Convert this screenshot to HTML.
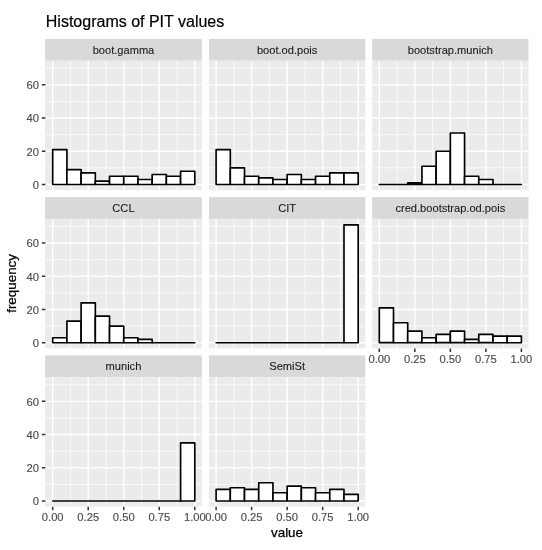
<!DOCTYPE html>
<html lang="en"><head><meta charset="utf-8"><title>Histograms of PIT values</title>
<style>html,body{margin:0;padding:0;background:#fff;width:542px;height:550px;overflow:hidden}svg{display:block}</style></head>
<body>
<svg width="542" height="550" viewBox="0 0 542 550" font-family="'Liberation Sans', Arial, Helvetica, sans-serif">
<rect width="542" height="550" fill="#fff"/>
<text x="45.8" y="27.2" font-size="16.0" fill="#000" stroke="#000" stroke-width="0.2">Histograms of PIT values</text>
<g>
<rect x="45.1" y="38.9" width="156.75" height="21.8" fill="#d9d9d9"/>
<rect x="45.1" y="60.7" width="156.75" height="129.4" fill="#ebebeb"/>
<path d="M45.1 167.9H201.85M45.1 134.68H201.85M45.1 101.47H201.85M45.1 68.26H201.85M70.46 60.7V190.1M105.99 60.7V190.1M141.51 60.7V190.1M177.04 60.7V190.1" stroke="#fff" stroke-width="0.72" fill="none"/>
<path d="M45.1 184.5H201.85M45.1 151.29H201.85M45.1 118.08H201.85M45.1 84.86H201.85M52.7 60.7V190.1M88.22 60.7V190.1M123.75 60.7V190.1M159.27 60.7V190.1M194.8 60.7V190.1" stroke="#fff" stroke-width="1.45" fill="none"/>
<g fill="#fff" stroke="#000" stroke-width="1.65" stroke-linejoin="round">
<rect x="52.7" y="149.63" width="14.21" height="34.87"/>
<rect x="66.91" y="169.56" width="14.21" height="14.95"/>
<rect x="81.12" y="172.88" width="14.21" height="11.62"/>
<rect x="95.33" y="181.18" width="14.21" height="3.32"/>
<rect x="109.54" y="176.2" width="14.21" height="8.3"/>
<rect x="123.75" y="176.2" width="14.21" height="8.3"/>
<rect x="137.96" y="179.52" width="14.21" height="4.98"/>
<rect x="152.17" y="174.54" width="14.21" height="9.96"/>
<rect x="166.38" y="176.2" width="14.21" height="8.3"/>
<rect x="180.59" y="171.22" width="14.21" height="13.29"/>
</g>
<text x="123.47" y="53.7" font-size="11.1" fill="#1a1a1a" stroke="#1a1a1a" stroke-width="0.1" text-anchor="middle">boot.gamma</text>
<text x="39.05" y="188.75" font-size="11.2" fill="#4d4d4d" stroke="#4d4d4d" stroke-width="0.15" text-anchor="end">0</text>
<text x="39.05" y="155.54" font-size="11.2" fill="#4d4d4d" stroke="#4d4d4d" stroke-width="0.15" text-anchor="end">20</text>
<text x="39.05" y="122.33" font-size="11.2" fill="#4d4d4d" stroke="#4d4d4d" stroke-width="0.15" text-anchor="end">40</text>
<text x="39.05" y="89.11" font-size="11.2" fill="#4d4d4d" stroke="#4d4d4d" stroke-width="0.15" text-anchor="end">60</text>
<path d="M41.9 184.5H45.4M41.9 151.29H45.4M41.9 118.08H45.4M41.9 84.86H45.4" stroke="#333" stroke-width="1.5" fill="none"/>
</g>
<g>
<rect x="209" y="38.9" width="156.3" height="21.8" fill="#d9d9d9"/>
<rect x="209" y="60.7" width="156.3" height="129.4" fill="#ebebeb"/>
<path d="M209 167.9H365.3M209 134.68H365.3M209 101.47H365.3M209 68.26H365.3M233.86 60.7V190.1M269.39 60.7V190.1M304.91 60.7V190.1M340.44 60.7V190.1" stroke="#fff" stroke-width="0.72" fill="none"/>
<path d="M209 184.5H365.3M209 151.29H365.3M209 118.08H365.3M209 84.86H365.3M216.1 60.7V190.1M251.62 60.7V190.1M287.15 60.7V190.1M322.67 60.7V190.1M358.2 60.7V190.1" stroke="#fff" stroke-width="1.45" fill="none"/>
<g fill="#fff" stroke="#000" stroke-width="1.65" stroke-linejoin="round">
<rect x="216.1" y="149.63" width="14.21" height="34.87"/>
<rect x="230.31" y="167.9" width="14.21" height="16.61"/>
<rect x="244.52" y="176.2" width="14.21" height="8.3"/>
<rect x="258.73" y="177.86" width="14.21" height="6.64"/>
<rect x="272.94" y="179.52" width="14.21" height="4.98"/>
<rect x="287.15" y="174.54" width="14.21" height="9.96"/>
<rect x="301.36" y="179.52" width="14.21" height="4.98"/>
<rect x="315.57" y="176.2" width="14.21" height="8.3"/>
<rect x="329.78" y="172.88" width="14.21" height="11.62"/>
<rect x="343.99" y="172.88" width="14.21" height="11.62"/>
</g>
<text x="287.15" y="53.7" font-size="11.1" fill="#1a1a1a" stroke="#1a1a1a" stroke-width="0.1" text-anchor="middle">boot.od.pois</text>
</g>
<g>
<rect x="372.2" y="38.9" width="156.3" height="21.8" fill="#d9d9d9"/>
<rect x="372.2" y="60.7" width="156.3" height="129.4" fill="#ebebeb"/>
<path d="M372.2 167.9H528.5M372.2 134.68H528.5M372.2 101.47H528.5M372.2 68.26H528.5M397.06 60.7V190.1M432.59 60.7V190.1M468.11 60.7V190.1M503.64 60.7V190.1" stroke="#fff" stroke-width="0.72" fill="none"/>
<path d="M372.2 184.5H528.5M372.2 151.29H528.5M372.2 118.08H528.5M372.2 84.86H528.5M379.3 60.7V190.1M414.82 60.7V190.1M450.35 60.7V190.1M485.88 60.7V190.1M521.4 60.7V190.1" stroke="#fff" stroke-width="1.45" fill="none"/>
<g fill="#fff" stroke="#000" stroke-width="1.65" stroke-linejoin="round">
<path d="M379.3 184.5H407.72z"/>
<rect x="407.72" y="182.84" width="14.21" height="1.66"/>
<rect x="421.93" y="166.24" width="14.21" height="18.27"/>
<rect x="436.14" y="151.29" width="14.21" height="33.21"/>
<rect x="450.35" y="133.02" width="14.21" height="51.48"/>
<rect x="464.56" y="176.2" width="14.21" height="8.3"/>
<rect x="478.77" y="179.52" width="14.21" height="4.98"/>
<path d="M492.98 184.5H521.4z"/>
</g>
<text x="450.35" y="53.7" font-size="11.1" fill="#1a1a1a" stroke="#1a1a1a" stroke-width="0.1" text-anchor="middle">bootstrap.munich</text>
</g>
<g>
<rect x="45.1" y="197.1" width="156.75" height="21.8" fill="#d9d9d9"/>
<rect x="45.1" y="218.9" width="156.75" height="129.4" fill="#ebebeb"/>
<path d="M45.1 326.1H201.85M45.1 292.88H201.85M45.1 259.67H201.85M45.1 226.46H201.85M70.46 218.9V348.3M105.99 218.9V348.3M141.51 218.9V348.3M177.04 218.9V348.3" stroke="#fff" stroke-width="0.72" fill="none"/>
<path d="M45.1 342.7H201.85M45.1 309.49H201.85M45.1 276.28H201.85M45.1 243.06H201.85M52.7 218.9V348.3M88.22 218.9V348.3M123.75 218.9V348.3M159.27 218.9V348.3M194.8 218.9V348.3" stroke="#fff" stroke-width="1.45" fill="none"/>
<g fill="#fff" stroke="#000" stroke-width="1.65" stroke-linejoin="round">
<rect x="52.7" y="337.72" width="14.21" height="4.98"/>
<rect x="66.91" y="321.12" width="14.21" height="21.59"/>
<rect x="81.12" y="302.85" width="14.21" height="39.86"/>
<rect x="95.33" y="316.13" width="14.21" height="26.57"/>
<rect x="109.54" y="326.1" width="14.21" height="16.61"/>
<rect x="123.75" y="337.72" width="14.21" height="4.98"/>
<rect x="137.96" y="339.38" width="14.21" height="3.32"/>
<path d="M152.17 342.7H194.8z"/>
</g>
<text x="123.47" y="211.9" font-size="11.1" fill="#1a1a1a" stroke="#1a1a1a" stroke-width="0.1" text-anchor="middle">CCL</text>
<text x="39.05" y="346.95" font-size="11.2" fill="#4d4d4d" stroke="#4d4d4d" stroke-width="0.15" text-anchor="end">0</text>
<text x="39.05" y="313.74" font-size="11.2" fill="#4d4d4d" stroke="#4d4d4d" stroke-width="0.15" text-anchor="end">20</text>
<text x="39.05" y="280.53" font-size="11.2" fill="#4d4d4d" stroke="#4d4d4d" stroke-width="0.15" text-anchor="end">40</text>
<text x="39.05" y="247.31" font-size="11.2" fill="#4d4d4d" stroke="#4d4d4d" stroke-width="0.15" text-anchor="end">60</text>
<path d="M41.9 342.7H45.4M41.9 309.49H45.4M41.9 276.28H45.4M41.9 243.06H45.4" stroke="#333" stroke-width="1.5" fill="none"/>
</g>
<g>
<rect x="209" y="197.1" width="156.3" height="21.8" fill="#d9d9d9"/>
<rect x="209" y="218.9" width="156.3" height="129.4" fill="#ebebeb"/>
<path d="M209 326.1H365.3M209 292.88H365.3M209 259.67H365.3M209 226.46H365.3M233.86 218.9V348.3M269.39 218.9V348.3M304.91 218.9V348.3M340.44 218.9V348.3" stroke="#fff" stroke-width="0.72" fill="none"/>
<path d="M209 342.7H365.3M209 309.49H365.3M209 276.28H365.3M209 243.06H365.3M216.1 218.9V348.3M251.62 218.9V348.3M287.15 218.9V348.3M322.67 218.9V348.3M358.2 218.9V348.3" stroke="#fff" stroke-width="1.45" fill="none"/>
<g fill="#fff" stroke="#000" stroke-width="1.65" stroke-linejoin="round">
<path d="M216.1 342.7H343.99z"/>
<rect x="343.99" y="224.8" width="14.21" height="117.91"/>
</g>
<text x="287.15" y="211.9" font-size="11.1" fill="#1a1a1a" stroke="#1a1a1a" stroke-width="0.1" text-anchor="middle">CIT</text>
</g>
<g>
<rect x="372.2" y="197.1" width="156.3" height="21.8" fill="#d9d9d9"/>
<rect x="372.2" y="218.9" width="156.3" height="129.4" fill="#ebebeb"/>
<path d="M372.2 326.1H528.5M372.2 292.88H528.5M372.2 259.67H528.5M372.2 226.46H528.5M397.06 218.9V348.3M432.59 218.9V348.3M468.11 218.9V348.3M503.64 218.9V348.3" stroke="#fff" stroke-width="0.72" fill="none"/>
<path d="M372.2 342.7H528.5M372.2 309.49H528.5M372.2 276.28H528.5M372.2 243.06H528.5M379.3 218.9V348.3M414.82 218.9V348.3M450.35 218.9V348.3M485.88 218.9V348.3M521.4 218.9V348.3" stroke="#fff" stroke-width="1.45" fill="none"/>
<g fill="#fff" stroke="#000" stroke-width="1.65" stroke-linejoin="round">
<rect x="379.3" y="307.83" width="14.21" height="34.87"/>
<rect x="393.51" y="322.78" width="14.21" height="19.93"/>
<rect x="407.72" y="331.08" width="14.21" height="11.62"/>
<rect x="421.93" y="337.72" width="14.21" height="4.98"/>
<rect x="436.14" y="334.4" width="14.21" height="8.3"/>
<rect x="450.35" y="331.08" width="14.21" height="11.62"/>
<rect x="464.56" y="339.38" width="14.21" height="3.32"/>
<rect x="478.77" y="334.4" width="14.21" height="8.3"/>
<rect x="492.98" y="336.06" width="14.21" height="6.64"/>
<rect x="507.19" y="336.06" width="14.21" height="6.64"/>
</g>
<text x="450.35" y="211.9" font-size="11.1" fill="#1a1a1a" stroke="#1a1a1a" stroke-width="0.1" text-anchor="middle">cred.bootstrap.od.pois</text>
<text x="379.3" y="363" font-size="11.2" fill="#4d4d4d" stroke="#4d4d4d" stroke-width="0.15" text-anchor="middle">0.00</text>
<text x="414.82" y="363" font-size="11.2" fill="#4d4d4d" stroke="#4d4d4d" stroke-width="0.15" text-anchor="middle">0.25</text>
<text x="450.35" y="363" font-size="11.2" fill="#4d4d4d" stroke="#4d4d4d" stroke-width="0.15" text-anchor="middle">0.50</text>
<text x="485.88" y="363" font-size="11.2" fill="#4d4d4d" stroke="#4d4d4d" stroke-width="0.15" text-anchor="middle">0.75</text>
<text x="521.4" y="363" font-size="11.2" fill="#4d4d4d" stroke="#4d4d4d" stroke-width="0.15" text-anchor="middle">1.00</text>
<path d="M379.3 348.4V351.9M414.82 348.4V351.9M450.35 348.4V351.9M485.88 348.4V351.9M521.4 348.4V351.9" stroke="#333" stroke-width="1.5" fill="none"/>
</g>
<g>
<rect x="45.1" y="355.4" width="156.75" height="21.8" fill="#d9d9d9"/>
<rect x="45.1" y="377.2" width="156.75" height="129.4" fill="#ebebeb"/>
<path d="M45.1 484.4H201.85M45.1 451.18H201.85M45.1 417.97H201.85M45.1 384.76H201.85M70.46 377.2V506.6M105.99 377.2V506.6M141.51 377.2V506.6M177.04 377.2V506.6" stroke="#fff" stroke-width="0.72" fill="none"/>
<path d="M45.1 501H201.85M45.1 467.79H201.85M45.1 434.58H201.85M45.1 401.36H201.85M52.7 377.2V506.6M88.22 377.2V506.6M123.75 377.2V506.6M159.27 377.2V506.6M194.8 377.2V506.6" stroke="#fff" stroke-width="1.45" fill="none"/>
<g fill="#fff" stroke="#000" stroke-width="1.65" stroke-linejoin="round">
<path d="M52.7 501H180.59z"/>
<rect x="180.59" y="442.88" width="14.21" height="58.12"/>
</g>
<text x="123.47" y="370.2" font-size="11.1" fill="#1a1a1a" stroke="#1a1a1a" stroke-width="0.1" text-anchor="middle">munich</text>
<text x="39.05" y="505.25" font-size="11.2" fill="#4d4d4d" stroke="#4d4d4d" stroke-width="0.15" text-anchor="end">0</text>
<text x="39.05" y="472.04" font-size="11.2" fill="#4d4d4d" stroke="#4d4d4d" stroke-width="0.15" text-anchor="end">20</text>
<text x="39.05" y="438.83" font-size="11.2" fill="#4d4d4d" stroke="#4d4d4d" stroke-width="0.15" text-anchor="end">40</text>
<text x="39.05" y="405.61" font-size="11.2" fill="#4d4d4d" stroke="#4d4d4d" stroke-width="0.15" text-anchor="end">60</text>
<path d="M41.9 501H45.4M41.9 467.79H45.4M41.9 434.58H45.4M41.9 401.36H45.4" stroke="#333" stroke-width="1.5" fill="none"/>
<text x="52.7" y="521.3" font-size="11.2" fill="#4d4d4d" stroke="#4d4d4d" stroke-width="0.15" text-anchor="middle">0.00</text>
<text x="88.22" y="521.3" font-size="11.2" fill="#4d4d4d" stroke="#4d4d4d" stroke-width="0.15" text-anchor="middle">0.25</text>
<text x="123.75" y="521.3" font-size="11.2" fill="#4d4d4d" stroke="#4d4d4d" stroke-width="0.15" text-anchor="middle">0.50</text>
<text x="159.27" y="521.3" font-size="11.2" fill="#4d4d4d" stroke="#4d4d4d" stroke-width="0.15" text-anchor="middle">0.75</text>
<text x="194.8" y="521.3" font-size="11.2" fill="#4d4d4d" stroke="#4d4d4d" stroke-width="0.15" text-anchor="middle">1.00</text>
<path d="M52.7 506.7V510.2M88.22 506.7V510.2M123.75 506.7V510.2M159.27 506.7V510.2M194.8 506.7V510.2" stroke="#333" stroke-width="1.5" fill="none"/>
</g>
<g>
<rect x="209" y="355.4" width="156.3" height="21.8" fill="#d9d9d9"/>
<rect x="209" y="377.2" width="156.3" height="129.4" fill="#ebebeb"/>
<path d="M209 484.4H365.3M209 451.18H365.3M209 417.97H365.3M209 384.76H365.3M233.86 377.2V506.6M269.39 377.2V506.6M304.91 377.2V506.6M340.44 377.2V506.6" stroke="#fff" stroke-width="0.72" fill="none"/>
<path d="M209 501H365.3M209 467.79H365.3M209 434.58H365.3M209 401.36H365.3M216.1 377.2V506.6M251.62 377.2V506.6M287.15 377.2V506.6M322.67 377.2V506.6M358.2 377.2V506.6" stroke="#fff" stroke-width="1.45" fill="none"/>
<g fill="#fff" stroke="#000" stroke-width="1.65" stroke-linejoin="round">
<rect x="216.1" y="489.38" width="14.21" height="11.62"/>
<rect x="230.31" y="487.72" width="14.21" height="13.29"/>
<rect x="244.52" y="489.38" width="14.21" height="11.62"/>
<rect x="258.73" y="482.74" width="14.21" height="18.27"/>
<rect x="272.94" y="492.7" width="14.21" height="8.3"/>
<rect x="287.15" y="486.06" width="14.21" height="14.95"/>
<rect x="301.36" y="487.72" width="14.21" height="13.29"/>
<rect x="315.57" y="492.7" width="14.21" height="8.3"/>
<rect x="329.78" y="489.38" width="14.21" height="11.62"/>
<rect x="343.99" y="494.36" width="14.21" height="6.64"/>
</g>
<text x="287.15" y="370.2" font-size="11.1" fill="#1a1a1a" stroke="#1a1a1a" stroke-width="0.1" text-anchor="middle">SemiSt</text>
<text x="216.1" y="521.3" font-size="11.2" fill="#4d4d4d" stroke="#4d4d4d" stroke-width="0.15" text-anchor="middle">0.00</text>
<text x="251.62" y="521.3" font-size="11.2" fill="#4d4d4d" stroke="#4d4d4d" stroke-width="0.15" text-anchor="middle">0.25</text>
<text x="287.15" y="521.3" font-size="11.2" fill="#4d4d4d" stroke="#4d4d4d" stroke-width="0.15" text-anchor="middle">0.50</text>
<text x="322.67" y="521.3" font-size="11.2" fill="#4d4d4d" stroke="#4d4d4d" stroke-width="0.15" text-anchor="middle">0.75</text>
<text x="358.2" y="521.3" font-size="11.2" fill="#4d4d4d" stroke="#4d4d4d" stroke-width="0.15" text-anchor="middle">1.00</text>
<path d="M216.1 506.7V510.2M251.62 506.7V510.2M287.15 506.7V510.2M322.67 506.7V510.2M358.2 506.7V510.2" stroke="#333" stroke-width="1.5" fill="none"/>
</g>
<text x="287" y="536.7" font-size="13.4" fill="#000" stroke="#000" stroke-width="0.25" text-anchor="middle">value</text>
<text transform="translate(16.3 283.4) rotate(-90)" font-size="13.4" fill="#000" stroke="#000" stroke-width="0.25" text-anchor="middle">frequency</text>
</svg>
</body></html>
